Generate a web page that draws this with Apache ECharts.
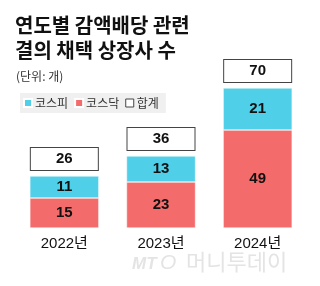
<!DOCTYPE html>
<html>
<head>
<meta charset="utf-8">
<script src="https://cdn.jsdelivr.net/npm/echarts@6/dist/echarts.min.js"></script>
<style>
  html, body { margin: 0; padding: 0; background: #fff; }
  #chart { width: 320px; height: 286px; }
</style>
</head>
<body>
<div id="chart"></div>
<script>
// 연도별 데이터
const years = ["2022년", "2023년", "2024년"];
const kospi = [11, 13, 21];
const kosdaq = [15, 23, 49];
const totals = [26, 36, 70];

const numFont = "'Liberation Sans', 'Noto Sans CJK KR', sans-serif";
const krFont = "'Noto Sans CJK KR', sans-serif";

const chart = echarts.init(document.getElementById("chart"));

chart.setOption({
  animation: false,
  title: [
    {
      text: "연도별 감액배당 관련\n결의 채택 상장사 수",
      left: 15,
      top: 13,
      padding: 0,
      textStyle: {
        fontFamily: krFont,
        fontSize: 20,
        fontWeight: "bold",
        lineHeight: 25,
        color: "#111",
      },
    },
    {
      text: "(단위: 개)",
      left: 16,
      top: 70,
      padding: 0,
      textStyle: {
        fontFamily: krFont,
        fontSize: 12,
        fontWeight: "normal",
        color: "#333",
      },
    },
  ],
  legend: {
    left: 20,
    top: 93,
    padding: [4, 7, 4, 3],
    backgroundColor: "#f0f0f0",
    itemWidth: 8,
    itemHeight: 8,
    itemGap: 6,
    icon: "rect",
    selectedMode: false,
    textStyle: { fontFamily: krFont, fontSize: 12, color: "#333", padding: [0, 0, 0, -2] },
    data: [
      { name: "코스피" },
      { name: "코스닥" },
      { name: "합계", itemStyle: { color: "#fff", borderColor: "#444", borderWidth: 1 } },
    ],
  },
  grid: {
    left: 16,
    right: 14,
    top: 68,
    bottom: 58,
  },
  xAxis: {
    type: "category",
    data: years,
    axisLine: { show: false },
    axisTick: { show: false },
    axisLabel: {
      margin: 8,
      fontFamily: numFont,
      fontSize: 15,
      color: "#111",
    },
  },
  yAxis: {
    type: "value",
    min: 0,
    max: 80,
    show: false,
  },
  series: [
    {
      name: "코스닥",
      type: "bar",
      stack: "sum",
      barWidth: 69,
      data: kosdaq,
      itemStyle: { color: "#f46b6b", borderColor: "#fff", borderWidth: 0.5 },
      label: {
        show: true,
        position: "inside",
        fontFamily: numFont,
        fontSize: 15,
        fontWeight: "bold",
        color: "#111",
      },
    },
    {
      name: "코스피",
      type: "bar",
      stack: "sum",
      barWidth: 69,
      data: kospi,
      itemStyle: { color: "#50cfe9", borderColor: "#fff", borderWidth: 0.5 },
      label: {
        show: true,
        position: "inside",
        fontFamily: numFont,
        fontSize: 15,
        fontWeight: "bold",
        color: "#111",
      },
    },
    {
      // 합계 박스
      name: "합계",
      type: "bar",
      barWidth: 69,
      barGap: "-100%",
      data: totals,
      silent: true,
      itemStyle: { color: "rgba(0,0,0,0)" },
      label: {
        show: true,
        position: "top",
        distance: 6,
        width: 67,
        height: 22,
        lineHeight: 22,
        align: "center",
        backgroundColor: "#fff",
        borderColor: "#444",
        borderWidth: 1,
        fontFamily: numFont,
        fontSize: 15,
        fontWeight: "bold",
        color: "#111",
      },
    },
  ],
  graphic: [
    {
      type: "text",
      left: 132,
      top: 256,
      style: {
        text: "MT",
        font: "italic bold 17px 'Liberation Sans', sans-serif",
        fill: "#e4e4e4",
      },
    },
    {
      type: "text",
      left: 160,
      top: 253,
      style: {
        text: "O",
        font: "italic 21px 'Liberation Sans', sans-serif",
        fill: "#e4e4e4",
      },
    },
    {
      type: "text",
      left: 186,
      top: 251,
      style: {
        text: "머니투데이",
        font: "22px 'Noto Sans CJK KR', sans-serif",
        fill: "#e4e4e4",
      },
    },
  ],
});
</script>
</body>
</html>
